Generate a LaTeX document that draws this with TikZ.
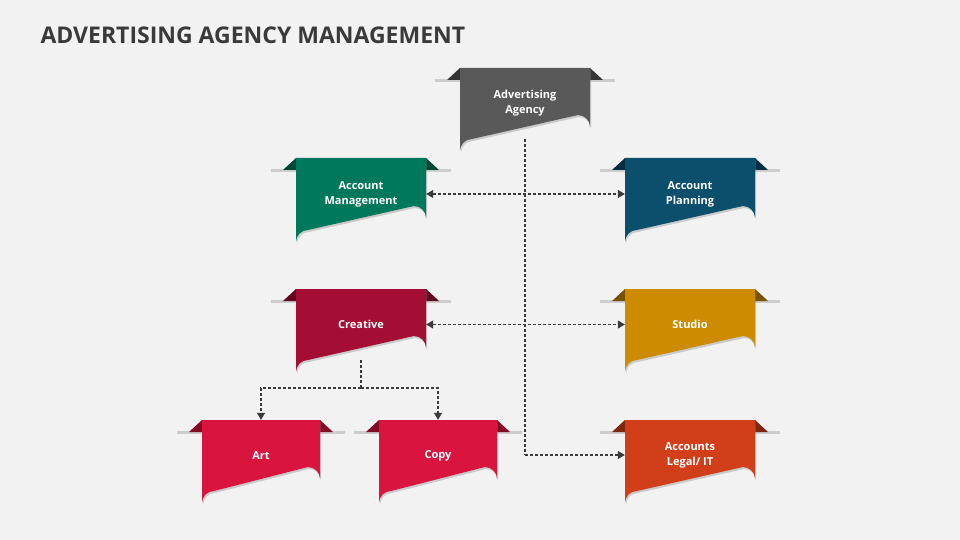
\documentclass[tikz,border=0pt]{standalone}
\usepackage{fontspec}
\setmainfont{Open Sans}
\usetikzlibrary{arrows.meta,shadows}
\definecolor{bg}{HTML}{F2F2F2}
\definecolor{cAg}{HTML}{595959}
\definecolor{cAm}{HTML}{00785A}
\definecolor{cAp}{HTML}{0B4F6C}
\definecolor{cCr}{HTML}{A50E34}
\definecolor{cSt}{HTML}{CC8B00}
\definecolor{cAr}{HTML}{D9143F}
\definecolor{cLe}{HTML}{D13F1A}
\definecolor{ttl}{HTML}{3A3A3A}
\tikzset{
  conn/.style={draw=ttl,line width=1.2pt,dash pattern=on 3pt off 2pt},
  tip/.style={-{Triangle[length=7pt,width=8pt]}},
  lbl/.style={text=white,font=\bfseries\fontsize{11}{15}\selectfont,align=center},
}
\newcommand{\rbox}[7]{%
  \fill[black!20] (#2-25,#3+11) rectangle (#4+25,#3+14);
  \fill[#6!60!black] (#2-13,#3+12) -- (#2,#3) -- (#2,#3+12) -- cycle;
  \fill[#6!60!black] (#4+13,#3+12) -- (#4,#3) -- (#4,#3+12) -- cycle;
  \fill[#6,drop shadow={shadow xshift=1pt,shadow yshift=-2pt,opacity=0.35}]
     (#2,#3) -- (#4,#3) -- (#4,#5-12) arc[start angle=0,end angle=-90,radius=12] -- (#2+12,#5) arc[start angle=270,end angle=180,radius=12] -- cycle;
  \node[lbl,minimum width=#4-#2,minimum height=#5-#3,inner sep=0pt] (#1) at ({(#2+#4)/2},{(#3+#5)/2}) {#7};
}
\begin{document}
\begin{tikzpicture}[x=1pt,y=-1pt]
\fill[bg] (0,0) rectangle (960,540);
\useasboundingbox (0,0) rectangle (960,540);
\node[anchor=west,text=ttl,font=\bfseries\fontsize{23}{28}\selectfont] (title) at (37,35) {ADVERTISING AGENCY MANAGEMENT};
\rbox{ag}{460}{68}{590}{139}{cAg}{Advertising\\Agency}
\rbox{am}{296}{158}{426}{230}{cAm}{Account\\Management}
\rbox{ap}{625}{158}{755}{230}{cAp}{Account\\Planning}
\rbox{cr}{296}{289}{426}{360}{cCr}{Creative}
\rbox{st}{625}{289}{755}{360}{cSt}{Studio}
\rbox{ar}{202}{420}{320}{491}{cAr}{Art}
\rbox{co}{379}{420}{497}{491}{cAr}{Copy}
\rbox{le}{625}{420}{755}{491}{cLe}{Accounts\\Legal/ IT}
\coordinate (j1) at (525,455);
\coordinate (j2) at (361,388);
\draw[conn] (ag.south -| j1) -- (j1);
\draw[conn,tip] (j1) -- (le.west |- j1);
\draw[conn,{Triangle[length=7pt,width=8pt]}-{Triangle[length=7pt,width=8pt]}] (am.east) -- (ap.west);
\draw[conn,{Triangle[length=7pt,width=8pt]}-{Triangle[length=7pt,width=8pt]}] (cr.east) -- (st.west);
\draw[conn] (cr.south) -- (j2);
\draw[conn,tip] (j2) -| (ar.north);
\draw[conn,tip] (j2) -| (co.north);
\end{tikzpicture}
\end{document}
